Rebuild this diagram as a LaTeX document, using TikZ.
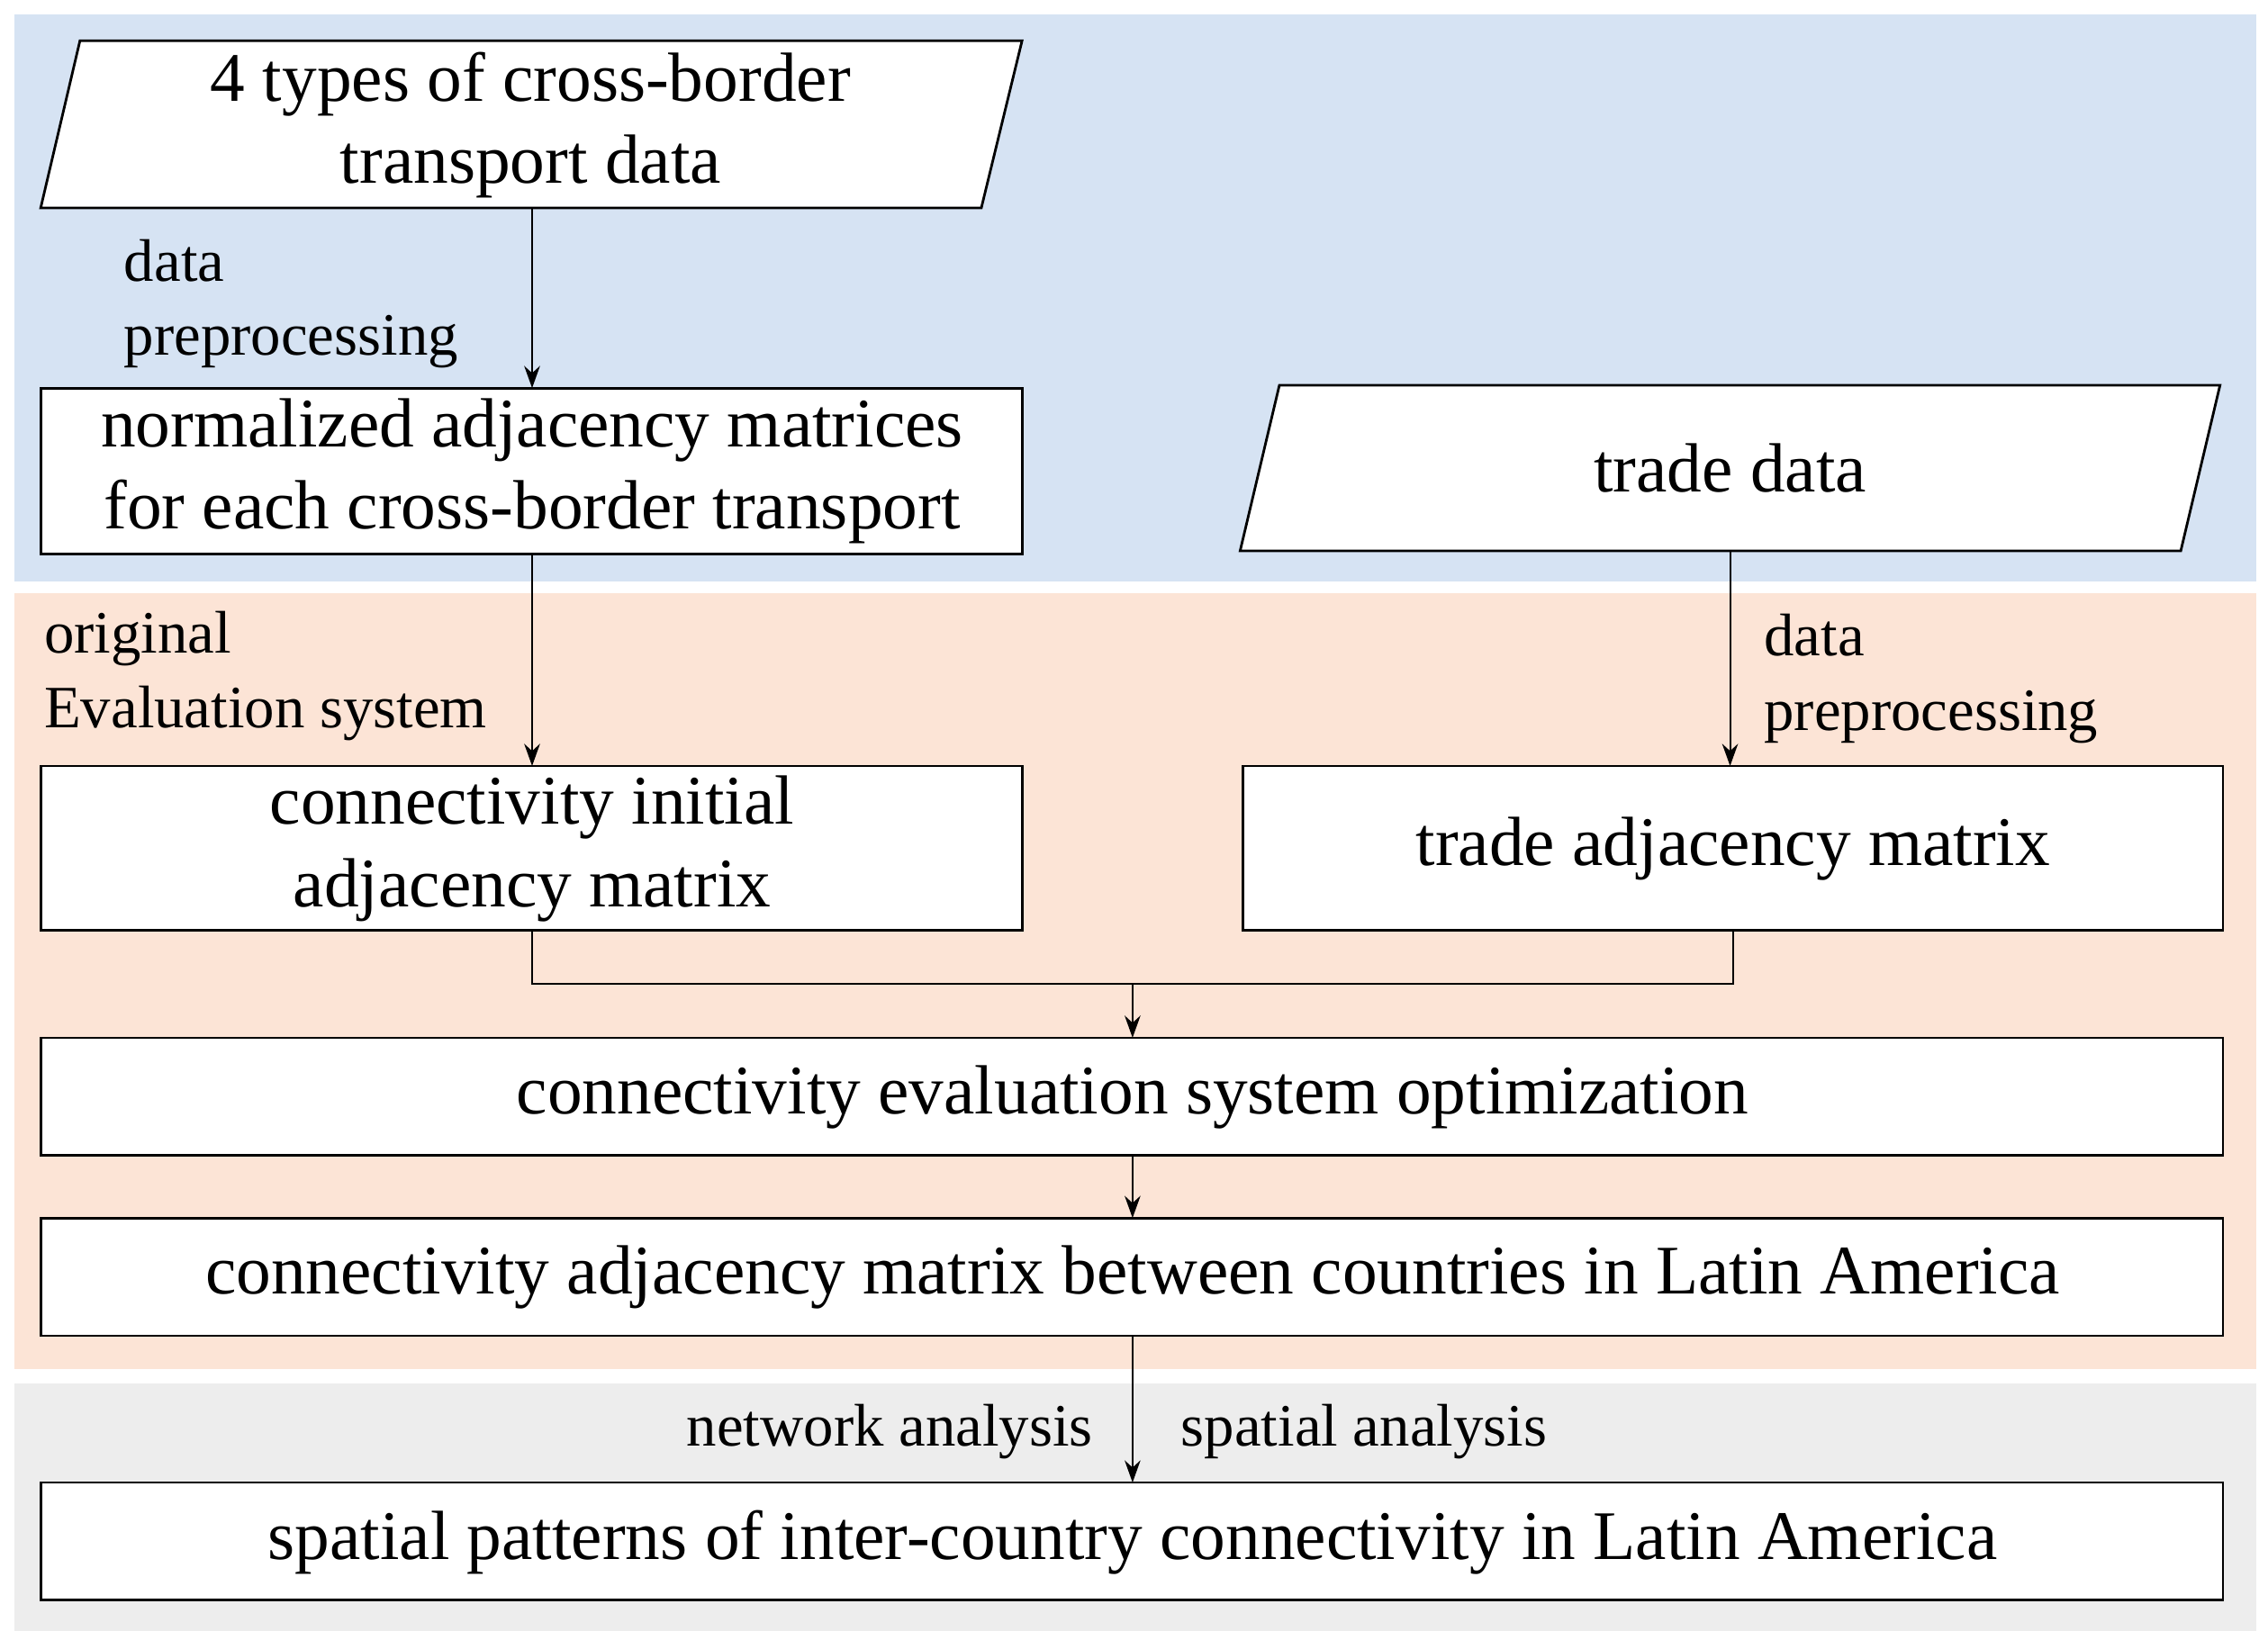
\documentclass[tikz,border=0pt]{standalone}
\usetikzlibrary{arrows.meta}
\usepackage{fontspec}
\setmainfont{Liberation Serif}
\begin{document}
\begin{tikzpicture}[x=0.016147cm,y=-0.016147cm,
  txt/.style={font=\fontsize{22}{26}\selectfont,align=center},
  lbl/.style={font=\fontsize{19}{23.5}\selectfont,align=left,inner sep=0pt},
  arr/.style={-{Stealth[length=7pt,width=5pt]},semithick}]
\useasboundingbox (0,0) rectangle (1560,1134);
\fill[white] (0,0) rectangle (1560,1134);
\fill[fill={rgb,255:red,214;green,227;blue,243}] (10,10) rectangle (1552,400);
\fill[fill={rgb,255:red,252;green,228;blue,214}] (10,408) rectangle (1552,942);
\fill[fill={rgb,255:red,237;green,237;blue,237}] (10,952) rectangle (1552,1122);
% parallelograms
\draw[thick,fill=white] (55,28) -- (703,28) -- (675,143) -- (28,143) -- cycle;
\node[txt] (p1) at (365,86) {4 types of cross-border\\transport data};
\coordinate (p1b) at (366,143);
\draw[thick,fill=white] (880,265) -- (1527,265) -- (1500,379) -- (853,379) -- cycle;
\node[txt] (p2) at (1190,322) {trade data};
\coordinate (p2b) at (1190,379);
% boxes
\draw[thick,fill=white] (28,267) rectangle (703,381);
\node[txt] (n1) at (366,324) {normalized adjacency matrices\\for each cross-border transport};
\coordinate (n1t) at (366,267); \coordinate (n1b) at (366,381);
\draw[thick,fill=white] (28,527) rectangle (703,640);
\node[txt] (c1) at (366,584) {connectivity initial\\adjacency matrix};
\coordinate (c1t) at (366,527); \coordinate (c1b) at (366,640);
\draw[thick,fill=white] (855,527) rectangle (1529,640);
\node[txt] (t1) at (1192,584) {trade adjacency matrix};
\coordinate (t1t) at (1190,527); \coordinate (t1b) at (1192,640);
\draw[thick,fill=white] (28,714) rectangle (1529,795);
\node[txt] (o1) at (779,755) {connectivity evaluation system optimization};
\coordinate (o1t) at (779,714); \coordinate (o1b) at (779,795);
\draw[thick,fill=white] (28,838) rectangle (1529,919);
\node[txt] (a1) at (779,879) {connectivity adjacency matrix between countries in Latin America};
\coordinate (a1t) at (779,838); \coordinate (a1b) at (779,919);
\draw[thick,fill=white] (28,1020) rectangle (1529,1101);
\node[txt] (s1) at (779,1061) {spatial patterns of inter-country connectivity in Latin America};
\coordinate (s1t) at (779,1020);
% connectors
\draw[arr] (p1b) -- (n1t);
\draw[arr] (n1b) -- (c1t);
\draw[arr] (p2b) -- (t1t);
\coordinate (m) at (779,677);
\draw[semithick] (c1b) |- (m) -| (t1b);
\draw[arr] (m) -- (o1t);
\draw[arr] (o1b) -- (a1t);
\draw[arr] (a1b) -- (s1t);
% labels
\node[lbl,anchor=west] (l1) at (85,209) {data\\preprocessing};
\node[lbl,anchor=west] (l2) at (30,465) {original\\Evaluation system};
\node[lbl,anchor=west] (l3) at (1213,467) {data\\preprocessing};
\node[lbl,anchor=east] (l4) at (752,985) {network analysis};
\node[lbl,anchor=west] (l5) at (812,985) {spatial analysis};
\end{tikzpicture}
\end{document}
